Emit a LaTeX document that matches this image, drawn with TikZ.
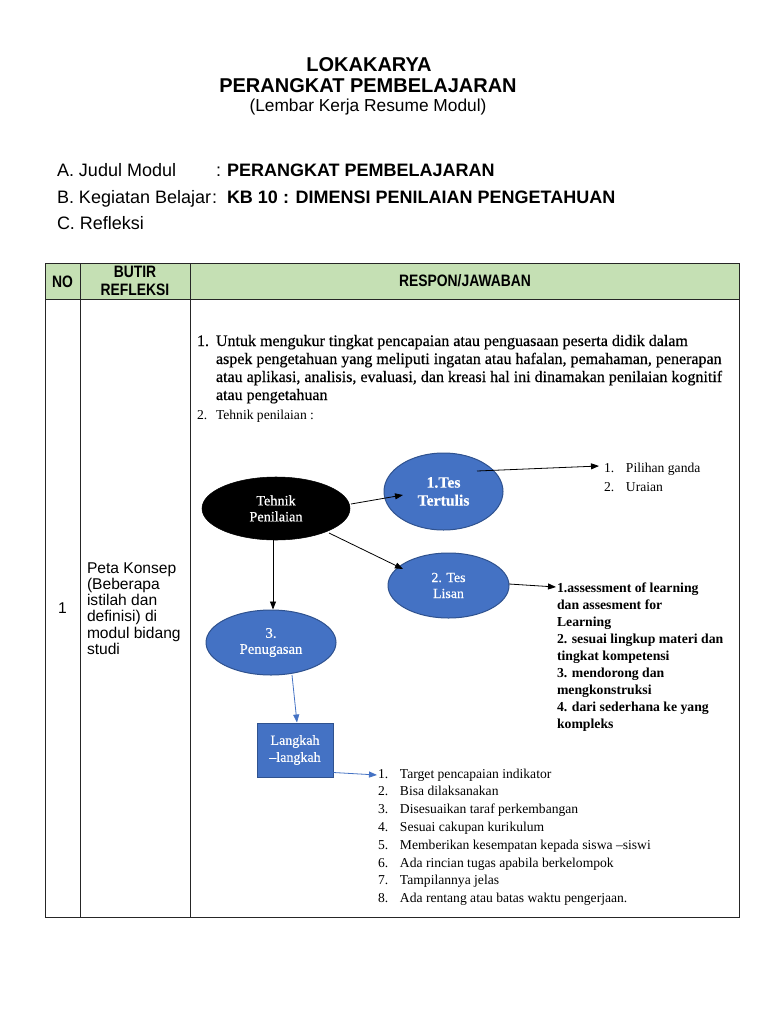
\documentclass[tikz,border=0pt]{standalone}
\usepackage{fontspec}
\setmainfont{Liberation Serif}
\newfontfamily\arial{Liberation Sans}
\newfontfamily\arialn[FakeStretch=0.84]{Liberation Sans}
\newfontfamily\camb[FakeBold=0.5]{Liberation Serif}
\usetikzlibrary{shapes.geometric,arrows.meta,calc}
\definecolor{hdrgreen}{HTML}{C5E0B4}
\definecolor{ofblue}{HTML}{4472C4}
\definecolor{ofline}{HTML}{2F528F}
\tikzset{
  txt/.style={inner sep=0pt, outer sep=0pt, anchor=base west},
  ctxt/.style={inner sep=0pt, outer sep=0pt, anchor=base},
  blueell/.style={ellipse, fill=ofblue, draw=ofline, line width=0.75pt, text=white, align=center, inner sep=0pt},
  blkarrow/.style={draw=black, line width=0.6pt, -{Triangle[length=6pt,width=4.5pt]}},
  bluearrow/.style={draw=ofblue, line width=0.6pt, -{Triangle[length=6pt,width=4.5pt]}},
  tbl/.style={draw=black!85, line width=0.75pt},
  titlef/.style={font=\arial\bfseries\fontsize{15}{18}\selectfont},
  bodyf/.style={font=\arial\fontsize{13.5}{16}\selectfont},
  hdrf/.style={font=\arialn\bfseries\fontsize{12.4}{14}\selectfont},
  cellf/.style={font=\arial\fontsize{11.7}{14}\selectfont},
  paraf/.style={font=\camb\fontsize{12}{14}\selectfont},
  timesf/.style={font=\fontsize{10.2}{13.35}\selectfont},
}
\begin{document}
\begin{tikzpicture}[x=0.75pt,y=-0.75pt]
\fill[white] (0,0) rectangle (768,1024);
\useasboundingbox (0,0) rectangle (768,1024);

% title
\node[ctxt, titlef] (t1) at (369,72) {LOKAKARYA};
\node[ctxt, titlef] (t2) at (368,93) {PERANGKAT PEMBELAJARAN};
\node[ctxt, font=\arial\fontsize{13}{15}\selectfont] (t3) at (368,111.5) {(Lembar Kerja Resume Modul)};

% A B C
\node[txt, bodyf] (a1) at (57,176) {A. Judul Modul};
\node[txt, bodyf] (a2) at (216,176) {:};
\node[txt, bodyf] (a3) at (227,176) {\bfseries PERANGKAT PEMBELAJARAN};
\node[txt, bodyf] (b1) at (57,203) {B. Kegiatan Belajar};
\node[txt, bodyf] (b2) at (212,203) {:};
\node[txt, bodyf] (b3) at (227,203) {\bfseries KB 10 : DIMENSI PENILAIAN PENGETAHUAN};
\node[txt, bodyf] (c1) at (57,229) {C. Refleksi};

% table
\fill[hdrgreen] (45,263) rectangle (739,299);
\draw[tbl] (45,263) rectangle (739,917);
\draw[tbl] (45,299) -- (739,299);
\draw[tbl] (80,263) -- (80,917);
\draw[tbl] (190,263) -- (190,917);

\node[ctxt, hdrf] (hno) at (62.5,287) {NO};
\node[ctxt, hdrf] (hb1) at (135,277) {BUTIR};
\node[ctxt, hdrf] (hb2) at (135,295) {REFLEKSI};
\node[ctxt, hdrf] (hr) at (465,286) {RESPON/JAWABAN};

\node[ctxt, cellf] (no1) at (62.5,613) {1};
\node[txt, cellf] (l1) at (87,573) {Peta Konsep};
\node[txt, cellf] (l2) at (87,589.3) {(Beberapa};
\node[txt, cellf] (l3) at (87,605.6) {istilah dan};
\node[txt, cellf] (l4) at (87,621.9) {definisi) di};
\node[txt, cellf] (l5) at (87,638.2) {modul bidang};
\node[txt, cellf] (l6) at (87,654.5) {studi};

% paragraph
\node[txt, paraf] (p1n) at (197,346) {1.};
\node[txt, paraf] (p1) at (216,346) {Untuk mengukur tingkat pencapaian atau penguasaan peserta didik dalam};
\node[txt, paraf] (p2) at (216,364) {aspek pengetahuan yang meliputi ingatan atau hafalan, pemahaman, penerapan};
\node[txt, paraf] (p3) at (216,382) {atau aplikasi, analisis, evaluasi, dan kreasi hal ini dinamakan penilaian kognitif};
\node[txt, paraf] (p4) at (216,400) {atau pengetahuan};
\node[txt, timesf] (p5n) at (197,419) {2.};
\node[txt, timesf] (p5) at (216,419) {Tehnik penilaian :};

% diagram
\node[ellipse, fill=black, draw=black, text=white, align=center, inner sep=0pt,
      minimum width=111pt, minimum height=47.25pt,
      font=\camb\fontsize{10.7}{12}\selectfont] (tp) at (276,508.5) {Tehnik\\Penilaian};
\node[blueell, minimum width=89.25pt, minimum height=57.75pt,
      font=\camb\bfseries\fontsize{11.8}{13.5}\selectfont] (tt) at (443.5,491.5) {1.Tes\\Tertulis};
\node[blueell, minimum width=90.75pt, minimum height=48.75pt,
      font=\camb\fontsize{10.4}{12}\selectfont] (tl) at (448.5,585.5) {2. Tes\\Lisan};
\node[blueell, minimum width=97.5pt, minimum height=48.75pt,
      font=\camb\fontsize{11}{12}\selectfont] (pg) at (271,642.5) {3.\\Penugasan};
\node[rectangle, fill=ofblue, draw=ofline, line width=0.75pt, text=white, align=center, inner sep=0pt,
      minimum width=57pt, minimum height=40.5pt,
      font=\camb\fontsize{10.5}{12.75}\selectfont] (box) at (295,750) {Langkah\\–langkah};

% lists
\node[txt, font=\fontsize{10.2}{14.25}\selectfont] (ttl) at (604,472)
  {\begin{tabular}[t]{@{}p{16.5pt}@{}l@{}}1.&Pilihan ganda\\2.&Uraian\end{tabular}};
\node[txt, font=\bfseries\fontsize{10.3}{12.8}\selectfont] (tll) at (557,592)
  {\begin{tabular}[t]{@{}l@{}}1.assessment of learning\\dan assesment for\\Learning\\2. sesuai lingkup materi dan\\tingkat kompetensi\\3. mendorong dan\\mengkonstruksi\\4. dari sederhana ke yang\\kompleks\end{tabular}};
\node[txt, timesf] (lkl) at (378,778)
  {\begin{tabular}[t]{@{}p{16.5pt}@{}l@{}}1.&Target pencapaian indikator\\2.&Bisa dilaksanakan\\3.&Disesuaikan taraf perkembangan\\4.&Sesuai cakupan kurikulum\\5.&Memberikan kesempatan kepada siswa –siswi\\6.&Ada rincian tugas apabila berkelompok\\7.&Tampilannya jelas\\8.&Ada rentang atau batas waktu pengerjaan.\end{tabular}};

% connectors
\draw[blkarrow] ($(tp)+(75,-4.5)$) -- ($(tt)+(-40.5,3.5)$);
\draw[blkarrow] ($(tp)+(53,24.5)$) -- ($(tl)+(-45.5,-16.5)$);
\draw[blkarrow] ($(tp.south)+(-3,0)$) -- ($(pg.north)+(2,0)$);
\draw[blkarrow] ($(tt)+(33.5,-20.5)$) -- ($(ttl.base west)+(-5,-6)$);
\draw[blkarrow] ($(tl)+(60.5,-1.5)$) -- ($(tll.base west)+(-1,-5)$);
\draw[bluearrow] ($(pg)+(21,32.5)$) -- ($(box.north)+(2,0)$);
\draw[bluearrow] ($(box.south east)+(0,-5)$) -- ($(lkl.base west)+(-1,-3)$);
\end{tikzpicture}
\end{document}
